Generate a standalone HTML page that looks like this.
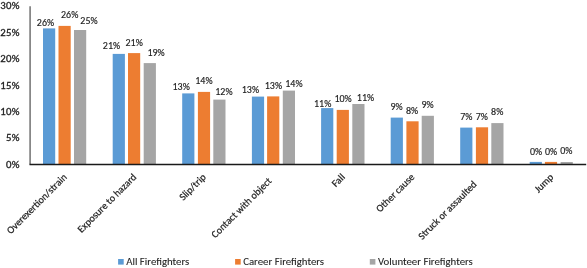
<!DOCTYPE html>
<html><head><meta charset="utf-8"><style>
html,body{margin:0;padding:0;background:#fff;}
body{width:587px;height:268px;overflow:hidden;}
svg{display:block;font-family:Carlito,"Liberation Sans",sans-serif;}
text{fill:#222;stroke:#222;stroke-width:0.15px;}
.cat{stroke-width:0.22px;}
.yl{stroke-width:0.3px;}
.lg{fill:#1e1e1e;stroke:#1e1e1e;stroke-width:0.08px;}
</style></head><body>
<svg width="587" height="268" viewBox="0 0 587 268">
<rect width="587" height="268" fill="#fff"/>

<rect x="43" y="28.4" width="12.2" height="136.1" fill="#5B9BD5"/>
<rect x="112.7" y="53.9" width="12.2" height="110.6" fill="#5B9BD5"/>
<rect x="182.2" y="93.4" width="12.2" height="71.1" fill="#5B9BD5"/>
<rect x="251.9" y="96.6" width="12.2" height="67.9" fill="#5B9BD5"/>
<rect x="321.1" y="108.1" width="12.2" height="56.4" fill="#5B9BD5"/>
<rect x="390.7" y="117.6" width="12.2" height="46.9" fill="#5B9BD5"/>
<rect x="460.2" y="127.6" width="12.2" height="36.9" fill="#5B9BD5"/>
<rect x="529.7" y="161.9" width="12.2" height="2.6" fill="#5B9BD5"/>
<rect x="58.5" y="25.9" width="12.2" height="138.6" fill="#ED7D31"/>
<rect x="128" y="53.1" width="12.2" height="111.4" fill="#ED7D31"/>
<rect x="197.9" y="91.9" width="12.2" height="72.6" fill="#ED7D31"/>
<rect x="267.1" y="96.4" width="12.2" height="68.1" fill="#ED7D31"/>
<rect x="336.7" y="109.9" width="12.2" height="54.6" fill="#ED7D31"/>
<rect x="406.4" y="121.3" width="12.2" height="43.2" fill="#ED7D31"/>
<rect x="475.9" y="127.3" width="12.2" height="37.2" fill="#ED7D31"/>
<rect x="544.9" y="161.9" width="12.2" height="2.6" fill="#ED7D31"/>
<rect x="74" y="30" width="12.2" height="134.5" fill="#A5A5A5"/>
<rect x="143.7" y="63.1" width="12.2" height="101.4" fill="#A5A5A5"/>
<rect x="213.3" y="99.6" width="12.2" height="64.9" fill="#A5A5A5"/>
<rect x="282.8" y="90.6" width="12.2" height="73.9" fill="#A5A5A5"/>
<rect x="352.3" y="104" width="12.2" height="60.5" fill="#A5A5A5"/>
<rect x="421.7" y="115.8" width="12.2" height="48.7" fill="#A5A5A5"/>
<rect x="491.3" y="123.1" width="12.2" height="41.4" fill="#A5A5A5"/>
<rect x="560.6" y="162.0" width="12.2" height="2.5" fill="#A5A5A5"/>
<line x1="30.1" y1="6.3" x2="30.1" y2="164.6" stroke="#7a7a7a" stroke-width="1.6"/>
<line x1="29.5" y1="164.5" x2="586.2" y2="164.5" stroke="#1a1a1a" stroke-width="1.4"/>
<text x="19.8" y="167.7" class="yl" font-size="10.8" letter-spacing="0.3" text-anchor="end">0%</text>
<text x="19.8" y="141.3" class="yl" font-size="10.8" letter-spacing="0.3" text-anchor="end">5%</text>
<text x="19.8" y="114.9" class="yl" font-size="10.8" letter-spacing="0.3" text-anchor="end">10%</text>
<text x="19.8" y="88.6" class="yl" font-size="10.8" letter-spacing="0.3" text-anchor="end">15%</text>
<text x="19.8" y="62.2" class="yl" font-size="10.8" letter-spacing="0.3" text-anchor="end">20%</text>
<text x="19.8" y="35.8" class="yl" font-size="10.8" letter-spacing="0.3" text-anchor="end">25%</text>
<text x="19.8" y="9.4" class="yl" font-size="10.8" letter-spacing="0.3" text-anchor="end">30%</text>
<text x="45.5" y="26.1" font-size="10" text-anchor="middle">26%</text>
<text x="69.7" y="18.3" font-size="10" text-anchor="middle">26%</text>
<text x="89.0" y="23.6" font-size="10" text-anchor="middle">25%</text>
<text x="111.5" y="49.2" font-size="10" text-anchor="middle">21%</text>
<text x="134.2" y="45.6" font-size="10" text-anchor="middle">21%</text>
<text x="156.1" y="55.9" font-size="10" text-anchor="middle">19%</text>
<text x="181.2" y="90.1" font-size="10" text-anchor="middle">13%</text>
<text x="203.9" y="83.9" font-size="10" text-anchor="middle">14%</text>
<text x="223.9" y="94.5" font-size="10" text-anchor="middle">12%</text>
<text x="250.4" y="93.3" font-size="10" text-anchor="middle">13%</text>
<text x="273.4" y="88.9" font-size="10" text-anchor="middle">13%</text>
<text x="293.9" y="87.4" font-size="10" text-anchor="middle">14%</text>
<text x="322.7" y="106.9" font-size="10" text-anchor="middle">11%</text>
<text x="343.1" y="102.1" font-size="10" text-anchor="middle">10%</text>
<text x="365.5" y="100.6" font-size="10" text-anchor="middle">11%</text>
<text x="396.6" y="110.1" font-size="10" text-anchor="middle">9%</text>
<text x="412.1" y="114.1" font-size="10" text-anchor="middle">8%</text>
<text x="427.6" y="108.1" font-size="10" text-anchor="middle">9%</text>
<text x="466.4" y="120.1" font-size="10" text-anchor="middle">7%</text>
<text x="481.9" y="120.1" font-size="10" text-anchor="middle">7%</text>
<text x="497.2" y="115.1" font-size="10" text-anchor="middle">8%</text>
<text x="536.0" y="154.6" font-size="10" text-anchor="middle">0%</text>
<text x="551.1" y="154.6" font-size="10" text-anchor="middle">0%</text>
<text x="566.4" y="154.2" font-size="10" text-anchor="middle">0%</text>
<text x="67.5" y="177.7" font-size="10.15" class="cat" text-anchor="end" transform="rotate(-45 67.5 177.7)">Overexertion/strain</text>
<text x="137.1" y="177.7" font-size="10.15" class="cat" text-anchor="end" transform="rotate(-45 137.1 177.7)">Exposure to hazard</text>
<text x="206.6" y="177.7" font-size="10.15" class="cat" text-anchor="end" transform="rotate(-45 206.6 177.7)">Slip/trip</text>
<text x="272.2" y="181.6" font-size="10.15" class="cat" text-anchor="end" transform="rotate(-45 272.2 181.6)">Contact with object</text>
<text x="345.6" y="177.7" font-size="10.15" class="cat" text-anchor="end" transform="rotate(-45 345.6 177.7)">Fall</text>
<text x="415.1" y="177.7" font-size="10.15" class="cat" text-anchor="end" transform="rotate(-45 415.1 177.7)">Other cause</text>
<text x="477.4" y="184.89999999999998" font-size="10.15" class="cat" text-anchor="end" transform="rotate(-45 477.4 184.89999999999998)">Struck or assaulted</text>
<text x="554.0" y="177.7" font-size="10.15" class="cat" text-anchor="end" transform="rotate(-45 554.0 177.7)">Jump</text>
<rect x="118.1" y="259" width="5.6" height="5.6" fill="#5B9BD5"/>
<text x="126.2" y="264.8" font-size="10.8" class="lg">All Firefighters</text>
<rect x="235.1" y="259" width="5.6" height="5.6" fill="#ED7D31"/>
<text x="243.2" y="264.8" font-size="10.8" class="lg">Career Firefighters</text>
<rect x="369.8" y="259" width="5.6" height="5.6" fill="#A5A5A5"/>
<text x="377.9" y="264.8" font-size="10.8" class="lg">Volunteer Firefighters</text>
</svg></body></html>
